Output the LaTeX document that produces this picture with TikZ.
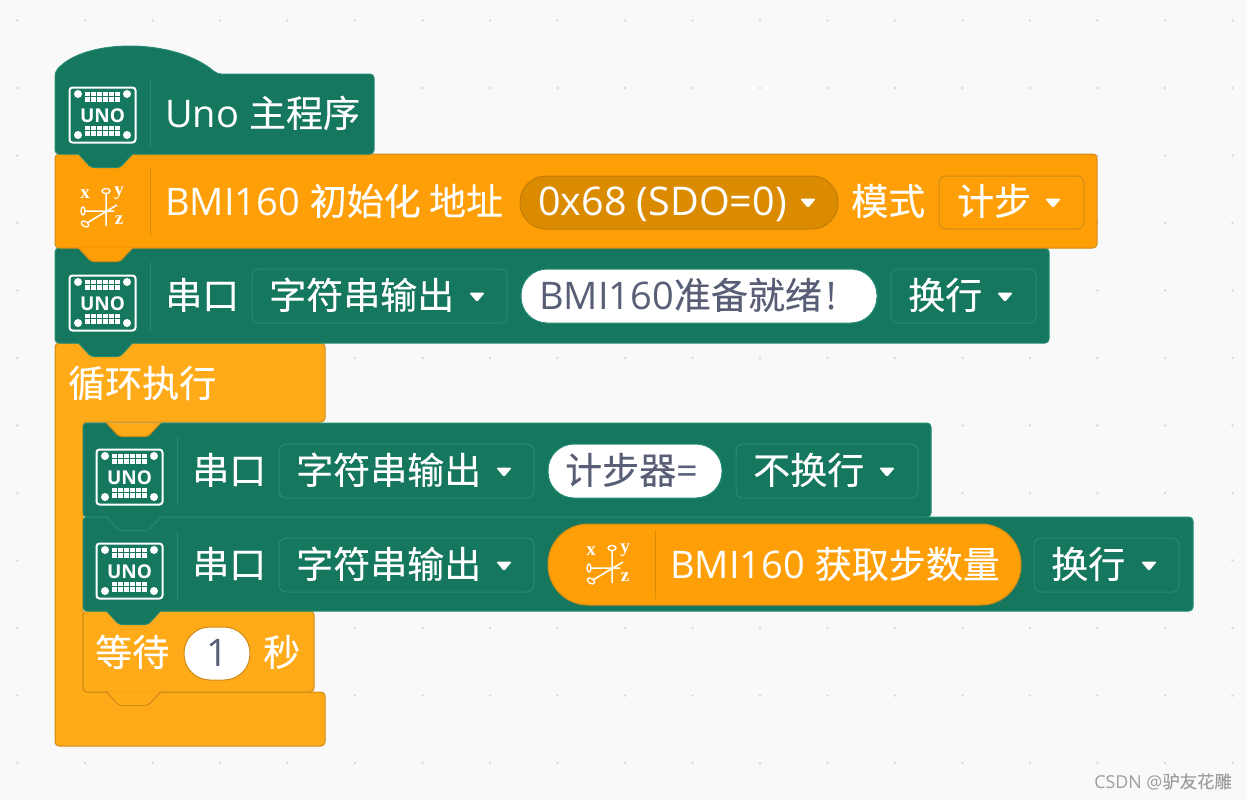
\documentclass[tikz,border=0pt]{standalone}
\usepackage{fontspec}
\setmainfont{Open Sans}
\newfontfamily\zhfont[Scale=0.974,FakeBold=0.2]{Noto Sans CJK SC}
\newfontfamily\axisfont{Liberation Serif}
\newcommand{\zh}[1]{{\zhfont #1}}
\definecolor{pagebg}{HTML}{F9F9F9}
\definecolor{griddot}{HTML}{DADADA}
\definecolor{unogreen}{HTML}{16775F}
\definecolor{unoedge}{HTML}{248B73}
\definecolor{bmiorange}{HTML}{FF9F07}
\definecolor{loopamber}{HTML}{FFAB19}
\definecolor{amberedge}{HTML}{CF8B17}
\definecolor{darkpill}{HTML}{DB8B00}
\definecolor{pilledge}{HTML}{C27C08}
\definecolor{inputgrey}{HTML}{575E75}
\tikzset{
  blockgreen/.style={fill=unogreen, draw=unoedge, line width=1pt, rounded corners=4pt},
  blockbmi/.style={fill=bmiorange, draw=amberedge, line width=1pt, rounded corners=4pt},
  blockloop/.style={fill=loopamber, draw=amberedge, line width=1pt, rounded corners=4pt},
  menugreen/.style={draw=unoedge, line width=1pt, rounded corners=7pt},
  menuorange/.style={draw=amberedge, line width=1pt, rounded corners=7pt},
  whitepill/.style={fill=white, line width=1pt},
  blocktext/.style={anchor=base west, inner sep=0pt, text=white, font=\fontsize{38}{38}\selectfont},
  inputtext/.style={anchor=base west, inner sep=0pt, text=inputgrey, font=\fontsize{38}{38}\selectfont},
  menuarrow/.pic={\fill[white, rounded corners=1.5pt] (-8,-4.5) -- (8,-4.5) -- (0,5) -- cycle;},
  unoicon/.pic={
    \draw[white, line width=2pt, rounded corners=3pt] (-33,-27.5) rectangle (33,27.5);
    \foreach \hx in {-24.5,24.5} \foreach \hy in {-21,20} \fill[white] (\hx,\hy) circle (4);
    \foreach \px in {0,...,5} \foreach \py in {0,1} {
      \fill[white] (-17.5+\px*6,-23+\py*5.2) rectangle +(5,4.4);
      \fill[white] (-17.5+\px*6,11+\py*5.2) rectangle +(5,4.4);
    }
    \node[inner sep=0pt, text=white, font=\fontsize{19}{19}\selectfont\bfseries] (#1) at (0,0.5) {UNO};
  },
  uniticon/.pic={
    \draw[white, line width=1.5pt] (4,-15) -- (4,18) (-18,3) -- (12,3) (-15,15) -- (15,-3);
    \draw[white, line width=1.3pt] (4,-17) ellipse (4 and 2.5) (-19,3) ellipse (2 and 4);
    \draw[white, line width=1.3pt, rotate around={-30:(-17,16)}] (-17,16) ellipse (4 and 2.5);
    \node[inner sep=0pt, text=white, font=\fontsize{19}{19}\axisfont\bfseries] (#1x) at (-17,-14) {x};
    \node[inner sep=0pt, text=white, font=\fontsize{19}{19}\axisfont\bfseries] (#1y) at (17,-15) {y};
    \node[inner sep=0pt, text=white, font=\fontsize{19}{19}\axisfont\bfseries] (#1z) at (17,12) {z};
  },
}
\newcommand{\blocktab}[3]{% tab x, tab y, style
  \filldraw[#3, rounded corners=3pt] (#1,#2-0.5) -- (#1+13,#2+13.5) -- (#1+42,#2+13.5) -- (#1+55,#2-0.5);
}
\begin{document}
\begin{tikzpicture}[x=1pt,y=-1pt]
  \useasboundingbox (0,0) rectangle (1247,800);
  \fill[pagebg] (0,0) rectangle (1247,800);
  \foreach \dx in {0,...,18} \foreach \dy in {0,...,11}
    \fill[griddot] (17.5+\dx*67.5,20.5+\dy*67.5) circle (1.3);
  % loop block with its arm and foot
  \draw[blockloop] (55,343) -- (325,343) -- (325,422) -- (83,422) -- (83,692) -- (325,692) -- (325,746) -- (55,746) -- cycle;
  % block bodies
  \draw[blockloop] (83,611) rectangle (314,692);
  \blocktab{106}{692}{blockloop}
  \draw[blockgreen] (83,517) rectangle (1193,611);
  \blocktab{106}{611}{blockgreen}
  \draw[blockgreen] (83,423) rectangle (931,517);
  \blocktab{106}{517}{blockgreen}
  \blocktab{106}{423}{blockloop}
  \draw[blockgreen] (55,248) rectangle (1049,343);
  \blocktab{78}{343}{blockgreen}
  \draw[blockbmi] (55,154) rectangle (1097,248);
  \blocktab{78}{248}{blockbmi}
  \draw[blockgreen] (55,154) -- (55,72) .. controls (85,38) and (175,38) .. (217,74) -- (374,74) -- (374,154) -- cycle;
  \blocktab{78}{154}{blockgreen}
  % dividers
  \draw[unoedge] (150,80) -- (150,147);
  \draw[unoedge] (150,262) -- (150,331);
  \draw[unoedge] (177,437) -- (177,505);
  \draw[unoedge] (177,531) -- (177,599);
  \draw[darkpill] (150,168) -- (150,236);
  % hat block
  \pic at (102.5,115) {unoicon=unoa};
  \node[blocktext] (unotitle) at (165,127) {Uno \zh{主程序}};
  % init block
  \pic at (102,208) {uniticon=bmia};
  \node[blocktext] (inittitle) at (165,215) {BMI160 \zh{初始化 地址}};
  \draw[fill=darkpill, draw=pilledge, line width=1pt, rounded corners=26pt] (520,176) rectangle (838,229);
  \node[blocktext, font=\fontsize{39.5}{39.5}\selectfont] (addrtext) at (538,215) {0x68 (SDO=0)};
  \pic at (808,203) {menuarrow};
  \node[blocktext] (modetext) at (851,215) {\zh{模式}};
  \draw[menuorange] (939,176) rectangle (1084,229);
  \node[blocktext] (steptext) at (957,215) {\zh{计步}};
  \pic at (1053,203) {menuarrow};
  % serial ready block
  \pic at (102.5,303) {unoicon=unob};
  \node[blocktext] (serialb) at (165,309) {\zh{串口}};
  \draw[menugreen] (252,269) rectangle (507,323);
  \node[blocktext] (outb) at (269,309) {\zh{字符串输出}};
  \pic at (477,297) {menuarrow};
  \draw[whitepill, draw=unoedge, rounded corners=26pt] (521,269) rectangle (877,323);
  \node[inputtext] (readytext) at (539,309) {BMI160\zh{准备就绪}\hspace{5pt}!};
  \draw[menugreen] (891,269) rectangle (1036,323);
  \node[blocktext] (lineb) at (908,309) {\zh{换行}};
  \pic at (1005,297) {menuarrow};
  % loop label
  \node[blocktext] (looptitle) at (68,397) {\zh{循环执行}};
  % serial counter block
  \pic at (129.5,477) {unoicon=unoc};
  \node[blocktext] (serialc) at (192,484) {\zh{串口}};
  \draw[menugreen] (279,444) rectangle (534,498);
  \node[blocktext] (outc) at (296,484) {\zh{字符串输出}};
  \pic at (504,472) {menuarrow};
  \draw[whitepill, draw=unoedge, rounded corners=26pt] (548,444) rectangle (722,498);
  \node[inputtext] (countertext) at (565,484) {\zh{计步器}=};
  \draw[menugreen] (736,444) rectangle (918,498);
  \node[blocktext] (linec) at (753,484) {\zh{不换行}};
  \pic at (887,472) {menuarrow};
  % serial value block
  \pic at (129.5,571) {unoicon=unod};
  \node[blocktext] (seriald) at (192,578) {\zh{串口}};
  \draw[menugreen] (279,538) rectangle (534,592);
  \node[blocktext] (outd) at (296,578) {\zh{字符串输出}};
  \pic at (504,566) {menuarrow};
  \draw[fill=bmiorange, draw=amberedge, line width=1pt, rounded corners=40pt] (548,524) rectangle (1021,605);
  \draw[darkpill] (655,530) -- (655,599);
  \pic at (608,565) {uniticon=bmib};
  \node[blocktext] (readtitle) at (670,578) {BMI160 \zh{获取步数量}};
  \draw[menugreen] (1034,538) rectangle (1179,592);
  \node[blocktext] (lined) at (1051,578) {\zh{换行}};
  \pic at (1149,566) {menuarrow};
  % wait block
  \node[blocktext] (waittext) at (95,666) {\zh{等待}};
  \draw[whitepill, draw=amberedge, rounded corners=26pt] (184,627) rectangle (250,680);
  \node[inputtext] (waitvalue) at (206,666) {1};
  \node[blocktext] (secondtext) at (263,666) {\zh{秒}};
  % watermark
  \node[anchor=base east, inner sep=0pt, text=black!38, font=\fontsize{17.8}{17.8}\selectfont] (watermark) at (1232,788) {CSDN @\zh{驴友花雕}};
\end{tikzpicture}
\end{document}
